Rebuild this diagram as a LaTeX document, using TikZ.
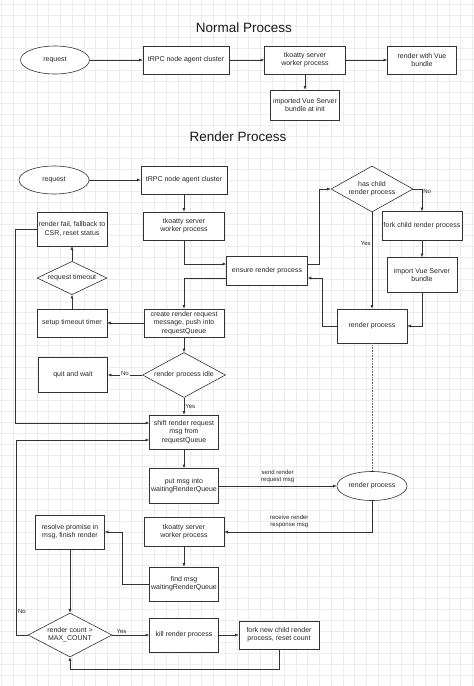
\documentclass[tikz,border=0pt]{standalone}
\usepackage{fontspec}
\setmainfont{Liberation Sans}
\usetikzlibrary{arrows.meta,shapes.geometric,positioning}
\tikzset{
  box/.style={draw=black!80, line width=0.6pt, fill=white, align=center, inner sep=1pt, text=black!85, font=\fontsize{7}{8.3}\selectfont},
  proc/.style n args={2}{box, rectangle, minimum width=#1, minimum height=#2},
  oval/.style n args={2}{box, ellipse, minimum width=#1, minimum height=#2},
  choice/.style n args={2}{box, diamond, aspect=1.8, inner sep=0pt, minimum width=#1, minimum height=#2},
  arr/.style={draw=black!80, line width=0.6pt, -{Latex[length=3.5pt,width=3pt]}},
  lbl/.style={font=\fontsize{6}{7}\selectfont, text=black!85, inner sep=1pt, align=center},
  ttl/.style={font=\fontsize{13.5}{15}\selectfont, text=black!90},
  gridln/.style={draw=black!7, line width=0.5pt}
}

\begin{document}
\begin{tikzpicture}[x=1pt,y=-1pt]
\useasboundingbox (0,0) rectangle (474,686);
\fill[white] (0,0) rectangle (474,686);
\foreach \gx in {1.5,13.27,...,474} {\draw[gridln] (\gx,0) -- (\gx,686);}
\foreach \gy in {4.3,15.3,...,686} {\draw[gridln] (0,\gy) -- (474,\gy);}

% normal process
\node[ttl] (t_normal) at (244,28) {Normal Process};
\node[oval={69pt}{28pt}] (n_req) at (55,60) {request};
\node[proc={86pt}{28pt}] (n_trpc) at (186,60) {tRPC node agent cluster};
\node[proc={81pt}{28pt}] (n_koa) at (305,60) {tkoatty server\\worker process};
\node[proc={69pt}{28pt}] (n_vue) at (422,60) {render with Vue\\bundle};
\node[proc={69pt}{30pt}] (n_imp) at (305,105) {imported Vue Server\\bundle at init};
\draw[arr] (n_req) -- (n_trpc);
\draw[arr] (n_trpc) -- (n_koa);
\draw[arr] (n_koa) -- (n_vue);
\draw[arr] (n_koa) -- (n_imp);

% render process
\node[ttl] (t_render) at (238,137) {Render Process};
\node[oval={70pt}{28pt}] (r_req) at (54,180) {request};
\node[proc={86pt}{28pt}] (r_trpc) at (184,180) {tRPC node agent cluster};
\node[proc={81pt}{28pt}] (r_koa) at (184,226) {tkoatty server\\worker process};
\node[proc={81pt}{29pt}] (r_ensure) at (267,271) {ensure render process};
\node[choice={82pt}{46pt}] (r_has) at (372,189) {has child\\render process};
\node[proc={80pt}{29pt}] (r_fork) at (422,226) {fork child render process};
\node[proc={70pt}{35pt}] (r_import) at (422,275) {import Vue Server\\bundle};
\node[proc={70pt}{34pt}] (r_proc) at (372,326) {render process};
\node[proc={70pt}{34pt}] (r_fail) at (72,229) {render fail, fallback to\\CSR, reset status};
\node[choice={70pt}{33pt}] (r_timeout) at (72,278) {request timeout};
\node[proc={70pt}{28pt}] (r_timer) at (72,323) {setup timeout timer};
\node[proc={80pt}{28pt}] (r_create) at (184,323) {create render request\\message, push into\\requestQueue};
\node[choice={83pt}{45pt}] (r_idle) at (184,375) {render process idle};
\node[proc={69pt}{35pt}] (r_quit) at (73,375) {quit and wait};
\node[proc={69pt}{34pt}] (r_shift) at (184,432) {shift render request\\msg from\\requestQueue};
\node[proc={69pt}{35pt}] (r_put) at (184,486) {put msg into\\waitingRenderQueue};
\node[oval={70pt}{29pt}] (r_child) at (372,486) {render process};
\node[proc={80pt}{29pt}] (r_koa2) at (184,532) {tkoatty server\\worker process};
\node[proc={69pt}{34pt}] (r_resolve) at (70,532) {resolve promise in\\msg, finish render};
\node[proc={69pt}{34pt}] (r_find) at (184,584) {find msg\\waitingRenderQueue};
\node[choice={84pt}{44pt}] (r_count) at (70,635) {render count >\\MAX\_COUNT};
\node[proc={69pt}{34pt}] (r_kill) at (184,635) {kill render process};
\node[proc={80pt}{28pt}] (r_forknew) at (279,635) {fork new child render\\process, reset count};

\draw[arr] (r_req) -- (r_trpc);
\draw[arr] (r_trpc) -- (r_koa);
\draw[arr] (r_koa.south) |- ([yshift=7pt]r_ensure.west);
\draw[arr] ([yshift=-7pt]r_ensure.west) -| (r_create.north);
\draw[arr] ([yshift=7pt]r_ensure.east) -- ++(11,0) |- (r_has.west);
\draw[arr] (r_has.east) -| node[lbl, anchor=west, pos=0.56] {No} (r_fork.north);
\draw[arr] (r_has.south) -- node[lbl, left, pos=0.32] {Yes} (r_proc.north);
\draw[arr] (r_fork) -- (r_import);
\draw[arr] (r_import.south) |- (r_proc.east);
\draw[arr] (r_proc.west) -- ++(-14,0) |- ([yshift=-7pt]r_ensure.east);
\draw[draw=black!60, line width=0.6pt, densely dotted] (r_proc.south) -- (r_child.north);
\draw[arr] (r_create) -- (r_timer);
\draw[arr] (r_timer) -- (r_timeout);
\draw[arr] (r_timeout) -- (r_fail);
\draw[arr] (r_fail.west) -- ++(-21,0) |- ([yshift=9pt]r_shift.west);
\draw[arr] (r_create) -- (r_idle);
\draw[arr] (r_idle) -- node[lbl, fill=white, above=-2pt] {No} (r_quit);
\draw[arr] (r_idle) -- node[lbl, right] {Yes} (r_shift);
\draw[arr] (r_shift) -- (r_put);
\draw[arr] (r_put) -- node[lbl, above=2pt] {send render\\request msg} (r_child);
\draw[arr] (r_child.south) |- node[lbl, above=3pt, pos=0.78] {receive render\\response msg} (r_koa2.east);
\draw[arr] (r_koa2) -- (r_find);
\draw[arr] (r_find.west) -- ++(-27,0) |- (r_resolve.east);
\draw[arr] (r_resolve) -- (r_count);
\draw[arr] (r_count.west) -- ++(-11,0) |- node[lbl, right, pos=0.06] {No} ([yshift=-8pt]r_shift.west);
\draw[arr] (r_count) -- node[lbl, above, pos=0.25] {Yes} (r_kill);
\draw[arr] (r_kill) -- (r_forknew);
\draw[arr] (r_forknew.south) -- ++(0,20) -| (r_count.south);
\end{tikzpicture}
\end{document}
